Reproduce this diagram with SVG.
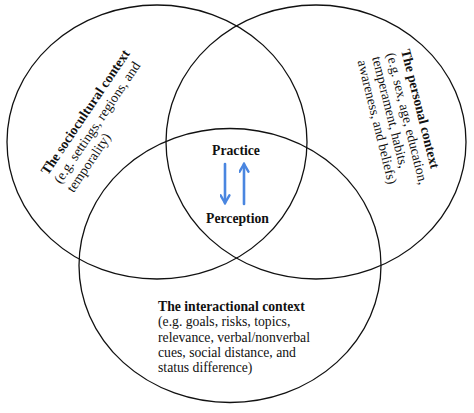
<svg xmlns="http://www.w3.org/2000/svg" width="474" height="413" viewBox="0 0 474 413">
<style>
.ring{fill:none;stroke:#111;stroke-width:1.3}
.t{font-family:"Liberation Serif","Times New Roman",serif;font-size:13.7px;fill:#111}
.b{font-weight:bold}
.arr{stroke:#4a86e0;stroke-width:2.6;fill:none;stroke-linecap:round}
</style>
<defs>
<marker id="ah" viewBox="0 0 10 10" refX="8" refY="5" markerWidth="11" markerHeight="11" markerUnits="userSpaceOnUse" orient="auto">
<path d="M1,1 L8,5 L1,9" fill="none" stroke="#4a86e0" stroke-width="2.2" stroke-linejoin="miter" stroke-linecap="round"/>
</marker>
</defs>
<rect width="474" height="413" fill="#fff"/>
<g id="sociocultural">
<ellipse class="ring" cx="157" cy="142" rx="150" ry="137"/>
<g transform="rotate(-56)">
<text class="t b" x="-119" y="138">The sociocultural context</text>
<text class="t" x="-119" y="153.5">(e.g. settings, regions, and</text>
<text class="t" x="-119" y="169">temporality)</text>
</g>
</g>
<g id="personal">
<ellipse class="ring" cx="316" cy="142" rx="150" ry="137"/>
<g transform="rotate(76)">
<text class="t b" x="146" y="-377">The personal context</text>
<text class="t" x="146" y="-362">(e.g. sex, age, education,</text>
<text class="t" x="146" y="-347">temperament, habits,</text>
<text class="t" x="146" y="-332">awareness, and beliefs)</text>
</g>
</g>
<g id="interactional">
<ellipse class="ring" cx="230" cy="265.5" rx="151" ry="137"/>
<text class="t b" x="158" y="310.7">The interactional context</text>
<text class="t" x="158" y="326">(e.g. goals, risks, topics,</text>
<text class="t" x="158" y="341.5">relevance, verbal/nonverbal</text>
<text class="t" x="158" y="356.8">cues, social distance, and</text>
<text class="t" x="158" y="372.2">status difference)</text>
</g>
<g id="practice">
<text class="t b" x="236" y="155" text-anchor="middle">Practice</text>
</g>
<g id="perception">
<text class="t b" x="237.5" y="223" text-anchor="middle">Perception</text>
</g>
<g id="connectors">
<path class="arr" d="M225,164 L225,203" marker-end="url(#ah)"/>
<path class="arr" d="M244,204 L244,164" marker-end="url(#ah)"/>
</g>
</svg>
